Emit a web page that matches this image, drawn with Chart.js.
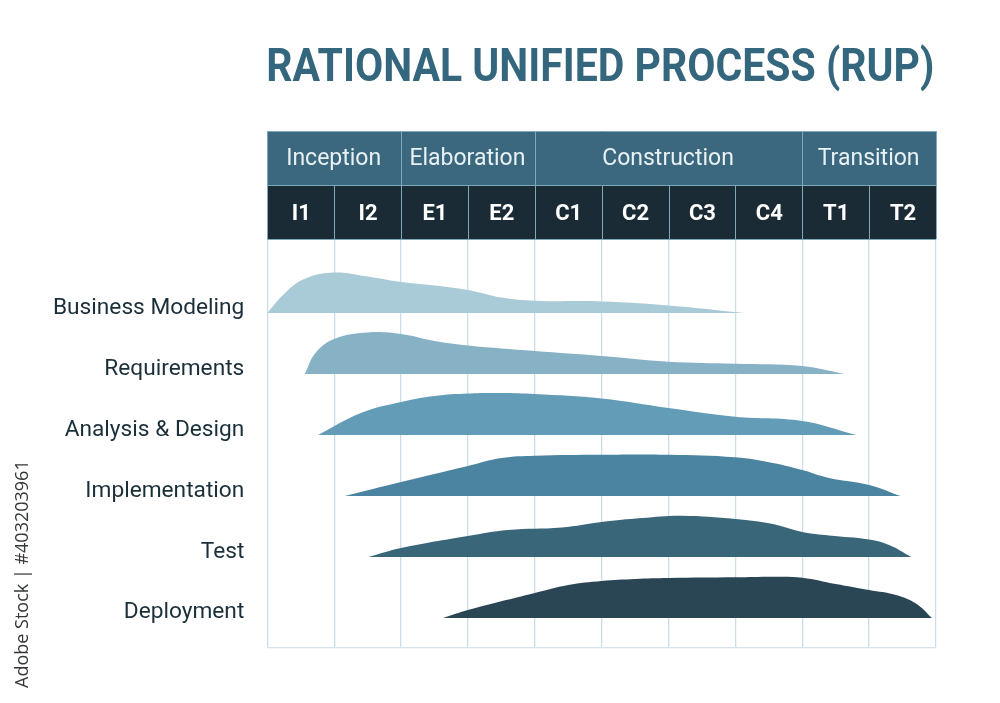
<!DOCTYPE html>
<html>
<head>
<meta charset="utf-8">
<title>Rational Unified Process (RUP)</title>
<script src="https://cdn.jsdelivr.net/npm/chart.js@4"></script>
<style>html,body{margin:0;padding:0;background:#fff}canvas{display:block}</style>
</head>
<body>
<canvas id="c" width="1000" height="703"></canvas>
<script>
const titleText = "RATIONAL UNIFIED PROCESS (RUP)";
const sideText = "Adobe Stock | #403203961";
const phases = ["Inception", "Elaboration", "Construction", "Transition"];
const phaseEdges = [0, 2, 4, 8, 10];
const iterations = ["I1", "I2", "E1", "E2", "C1", "C2", "C3", "C4", "T1", "T2"];
const disciplines = ["Business Modeling", "Requirements", "Analysis & Design", "Implementation", "Test", "Deployment"];
const rowBases = [335, 274, 213, 152, 91, 30];
const labelRows = [340, 279, 218, 157, 96, 36];
const colours = ["#a9cad7", "#87b2c6", "#639cb6", "#4a84a0", "#3a6679", "#2a4654"];

const businessX = [0, 0.25, 0.55, 1.0, 1.5, 2, 2.5, 3, 3.5, 4, 5, 6, 7.14];
const businessY = [0, 19, 34, 40.5, 36.5, 31, 27.5, 23, 15.5, 12.3, 11.5, 7.5, 0];
const requirementsX = [0.56, 0.72, 1.0, 1.5, 2, 2.5, 3, 4, 5, 6, 7, 8, 8.63];
const requirementsY = [0, 21, 35, 41.5, 40, 33, 28.5, 23, 18, 12.3, 10.3, 8, 0];
const analysisX = [0.76, 1.4, 2, 2.5, 3, 3.5, 4, 5, 6, 7, 8, 8.81];
const analysisY = [0, 22, 33, 39, 41.5, 42, 41, 36.5, 27, 18.3, 14, 0];
const implementationX = [1.16, 2, 3, 3.5, 4, 5, 6, 7, 7.56, 8, 8.4, 9, 9.47];
const implementationY = [0, 14, 30, 38, 40.3, 41.3, 41.3, 38.7, 33, 26, 18, 11, 0];
const testX = [1.51, 2, 3, 3.6, 4.4, 5, 5.6, 6.2, 7, 7.56, 8, 8.4, 9, 9.3, 9.63];
const testY = [0, 9, 21, 27, 29.5, 35, 39, 41.3, 38, 33, 25, 21.5, 17.5, 12, 0];
const deploymentX = [2.63, 3, 4, 4.5, 5, 5.5, 6, 7, 7.6, 8, 8.5, 9, 9.4, 9.7, 9.94];
const deploymentY = [0, 8, 25, 33, 37, 39, 40, 40.7, 41.3, 40.3, 34, 28, 23, 14.5, 0];

const seriesX = [businessX, requirementsX, analysisX, implementationX, testX, deploymentX];
const seriesY = [businessY, requirementsY, analysisY, implementationY, testY, deploymentY];

const yMax = 409, iterTop = 463, phaseTop = 517;

const datasets = disciplines.map((name, i) => ({
  label: name,
  data: seriesX[i].map((x, j) => ({ x, y: rowBases[i] + seriesY[i][j] })),
  fill: { value: rowBases[i] },
  backgroundColor: colours[i],
  borderColor: colours[i],
  borderWidth: 0,
  pointRadius: 0,
  tension: 0.4
}));

const headerPlugin = {
  id: "header",
  afterDraw(chart) {
    const { ctx, scales: { x, y } } = chart;
    const yA = y.getPixelForValue(phaseTop), yB = y.getPixelForValue(iterTop), yC = y.getPixelForValue(yMax);
    const line = "#7fa8b9";
    ctx.save();
    // title
    ctx.save();
    ctx.font = "700 46px Roboto";
    ctx.fillStyle = "#34677d";
    ctx.textBaseline = "alphabetic";
    ctx.textAlign = "left";
    const w = ctx.measureText(titleText).width;
    ctx.translate(x.getPixelForValue(0) - 1, 81);
    ctx.scale(668 / w, 1);
    ctx.fillText(titleText, 0, 0);
    ctx.restore();
    // phase band
    ctx.fillStyle = "#3b687e";
    ctx.fillRect(x.left, yA, x.right - x.left, yB - yA);
    ctx.fillStyle = "#1b2b35";
    ctx.fillRect(x.left, yB, x.right - x.left, yC - yB);
    ctx.strokeStyle = line;
    ctx.lineWidth = 1;
    ctx.beginPath();
    phaseEdges.forEach(e => { const p = Math.round(x.getPixelForValue(e)) + 0.5; ctx.moveTo(p, yA); ctx.lineTo(p, yB); });
    iterations.forEach((_, k) => { const p = Math.round(x.getPixelForValue(k)) + 0.5; ctx.moveTo(p, yB); ctx.lineTo(p, yC); });
    const pr = Math.round(x.getPixelForValue(10)) + 0.5;
    ctx.moveTo(pr, yB); ctx.lineTo(pr, yC);
    [yA, yB, yC].forEach(v => { const q = Math.round(v) + 0.5; ctx.moveTo(x.left, q); ctx.lineTo(x.right, q); });
    ctx.stroke();
    ctx.fillStyle = "#e8f1f4";
    ctx.textAlign = "center";
    ctx.textBaseline = "middle";
    ctx.font = "400 23px Roboto";
    phases.forEach((p, k) => ctx.fillText(p, x.getPixelForValue((phaseEdges[k] + phaseEdges[k + 1]) / 2) - 0.5, (yA + yB) / 2 + 1));
    ctx.fillStyle = "#ffffff";
    ctx.font = "700 22px Roboto";
    iterations.forEach((t, k) => ctx.fillText(t, x.getPixelForValue(k + 0.5) + 0.5, (yB + yC) / 2 + 2));
    // side text
    ctx.save();
    ctx.translate(23, 688);
    ctx.rotate(-Math.PI / 2);
    ctx.textAlign = "left";
    ctx.textBaseline = "middle";
    ctx.font = "500 18px 'Open Sans'";
    ctx.fillStyle = "#333739";
    ctx.fillText(sideText, 0, 0);
    ctx.restore();
    ctx.restore();
  }
};

new Chart(document.getElementById("c"), {
  type: "line",
  data: { datasets },
  plugins: [headerPlugin],
  options: {
    responsive: false,
    animation: false,
    parsing: false,
    layout: { padding: { top: 239, bottom: 55, right: 64, left: 0 } },
    plugins: { legend: { display: false }, tooltip: { enabled: false }, title: { display: false } },
    scales: {
      x: {
        type: "linear", min: 0, max: 10,
        afterFit(a) { a.height = 0; },
        ticks: { display: false, stepSize: 1 },
        grid: { color: "#c9dee7", lineWidth: 1.3, drawTicks: false },
        border: { display: true, color: "#d5e4ea", width: 1.3 }
      },
      y: {
        type: "linear", min: 0, max: yMax,
        afterFit(a) { a.width = 267.3; },
        afterBuildTicks(a) { a.ticks = labelRows.map(value => ({ value })); },
        ticks: {
          autoSkip: false, padding: 23, color: "#1b2f3a",
          font: { family: "Roboto", size: 22.7, weight: "400" },
          callback: (v, i) => disciplines[i]
        },
        grid: { display: false, drawTicks: false },
        border: { display: false }
      }
    }
  }
});
</script>
</body>
</html>
